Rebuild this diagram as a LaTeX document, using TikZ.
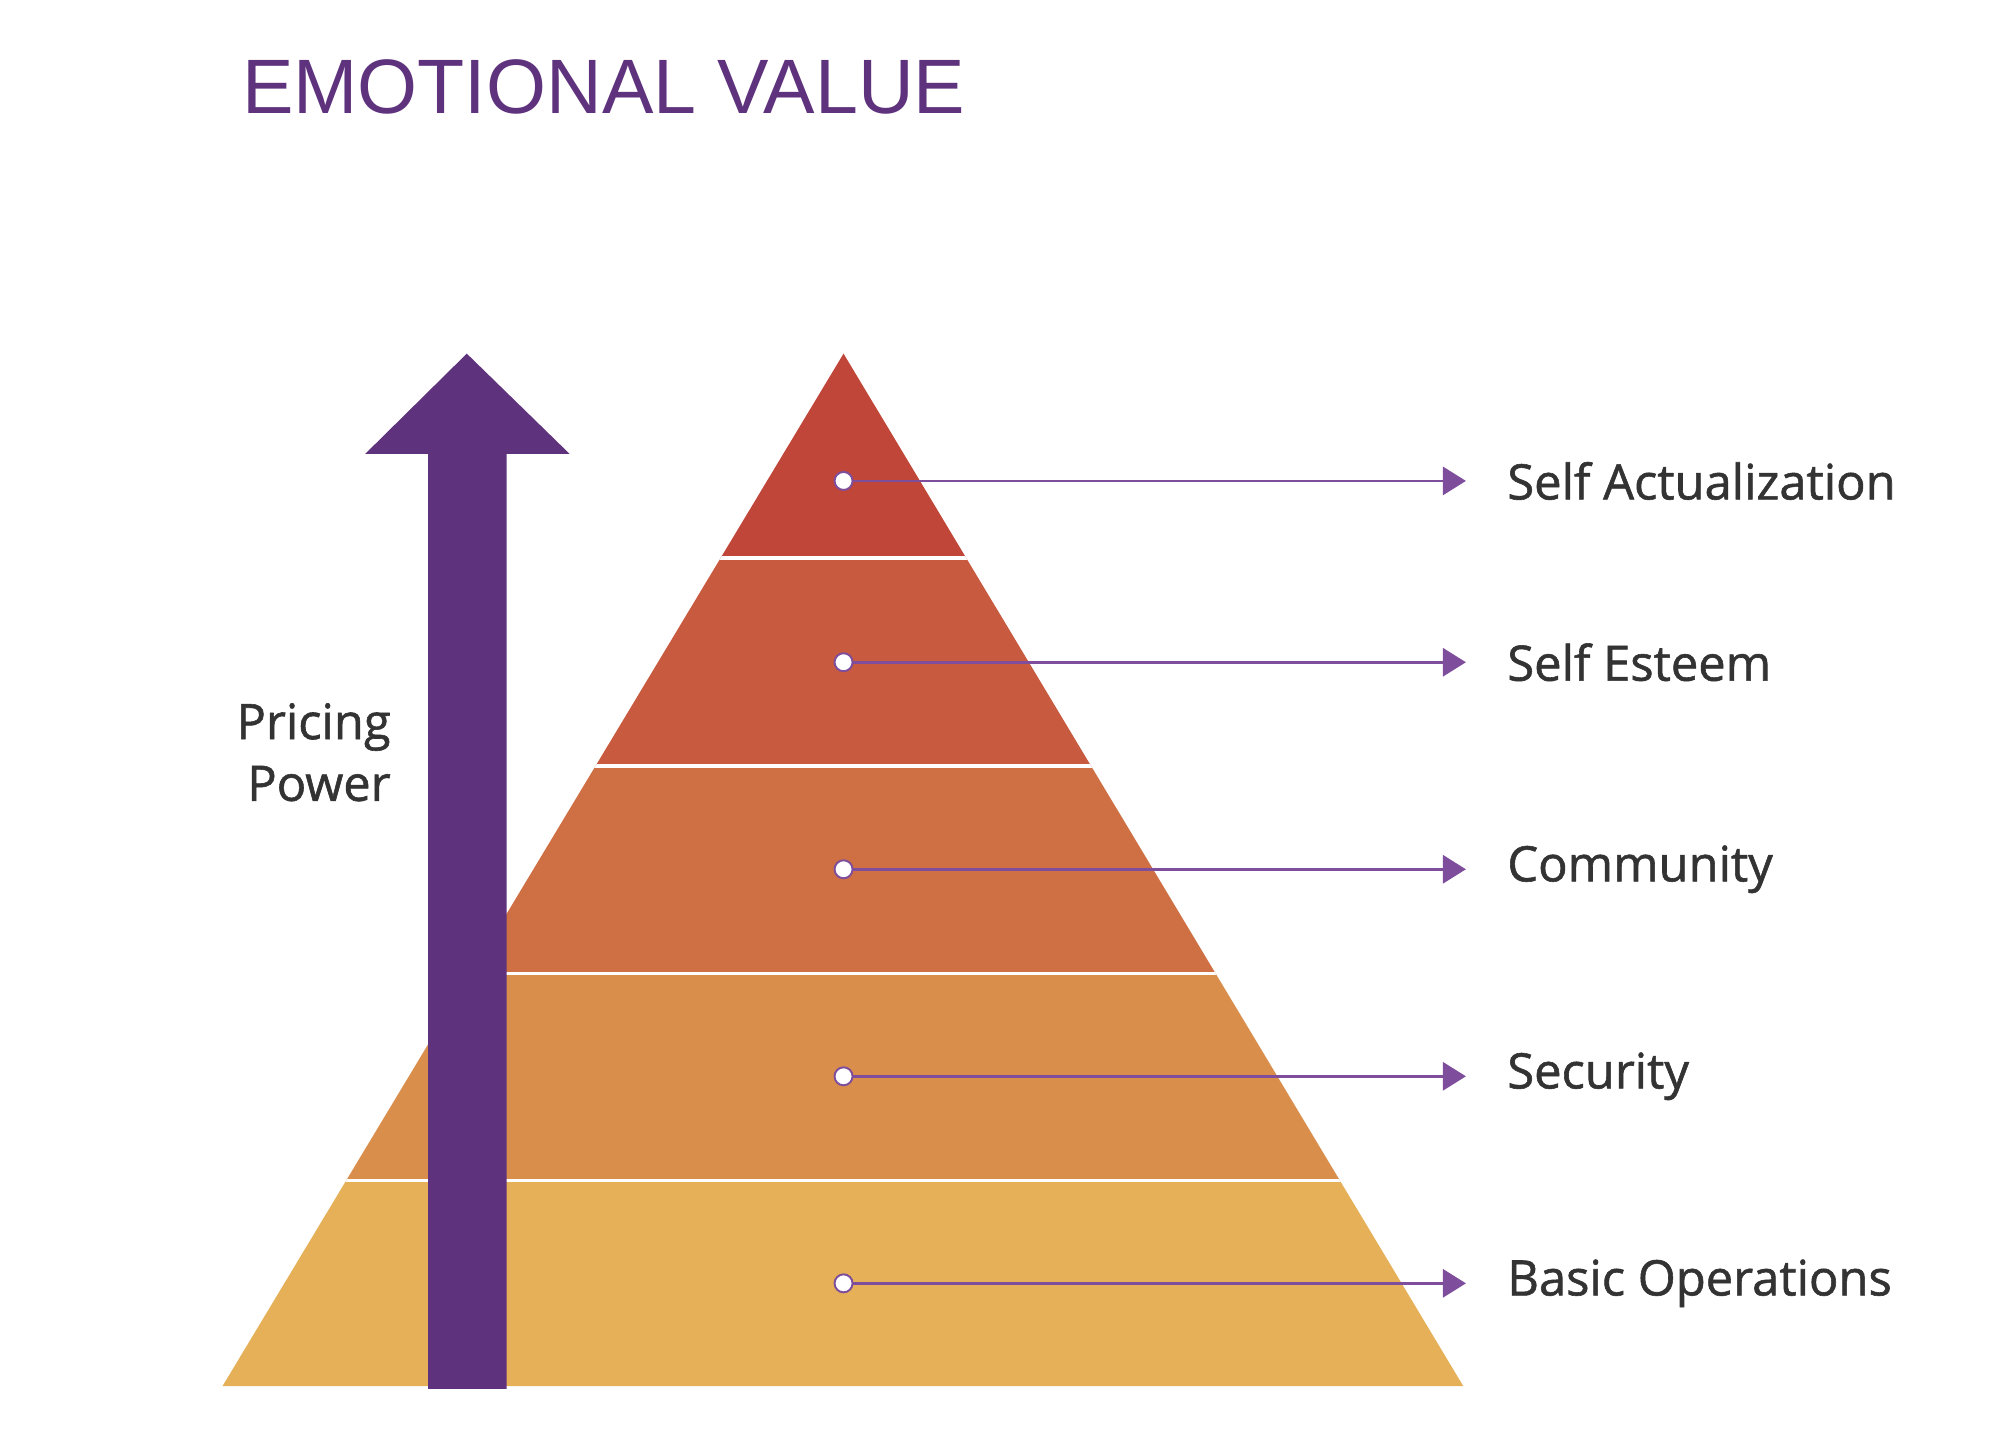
\documentclass[tikz,border=0pt]{standalone}
\usepackage{fontspec}
\setmainfont{Open Sans}
\newfontfamily\titlefont{Liberation Sans}
\usetikzlibrary{arrows.meta}
\definecolor{ppl}{HTML}{5E327C}
\definecolor{lnc}{HTML}{7E4E9C}
\definecolor{cA}{HTML}{C0463A}
\definecolor{cB}{HTML}{C75A3F}
\definecolor{cC}{HTML}{CF7044}
\definecolor{cD}{HTML}{DA8E4C}
\definecolor{cE}{HTML}{E5B057}
\definecolor{txt}{HTML}{333333}
\tikzset{
  dot/.style={circle,draw=lnc,fill=white,line width=1.5pt,inner sep=0pt,minimum size=14pt},
  lbl/.style={anchor=west,text=txt,font=\fontsize{38}{44}\selectfont\addfontfeatures{FakeBold=1.2},inner sep=0pt},
  conn/.style={draw=lnc,line width=2pt,-{Triangle[length=18pt,width=22pt]}}
}
\begin{document}
\begin{tikzpicture}[x=1pt,y=-1pt]
\useasboundingbox (0,0) rectangle (1560,1118);
\node[anchor=base west,inner sep=0pt,text=ppl,font=\titlefont\fontsize{60}{60}\selectfont] (title) at (188,88) {EMOTIONAL VALUE};
\begin{scope}
\clip (656,275) -- (1138,1078) -- (173,1078) -- cycle;
\fill[cA] (150,270) rectangle (1160,434);
\fill[cB] (150,434) rectangle (1160,596);
\fill[cC] (150,596) rectangle (1160,757);
\fill[cD] (150,757) rectangle (1160,918);
\fill[cE] (150,918) rectangle (1160,1080);
\foreach \y in {434,596,757,918} \draw[white,line width=3pt] (150,\y) -- (1160,\y);
\end{scope}
\fill[ppl] (333,1080) -- (333,353) -- (284,353) -- (363,275) -- (443,353) -- (394,353) -- (394,1080) -- cycle;
\node[align=right,anchor=east,text=txt,font=\fontsize{38}{48}\selectfont\addfontfeatures{FakeBold=1.2},inner sep=0pt] (pp) at (304,585) {Pricing\\Power};
\foreach \n/\y/\t in {1/374/Self Actualization,2/515/Self Esteem,3/676/Community,4/837/Security,5/998/Basic Operations}{
  \coordinate (e\n) at (1140,\y);
  \draw[conn] (656,\y) -- (e\n);
  \node[dot] (d\n) at (656,\y) {};
  \node[lbl] (l\n) at (1172,\y) {\t};
}
\end{tikzpicture}
\end{document}
